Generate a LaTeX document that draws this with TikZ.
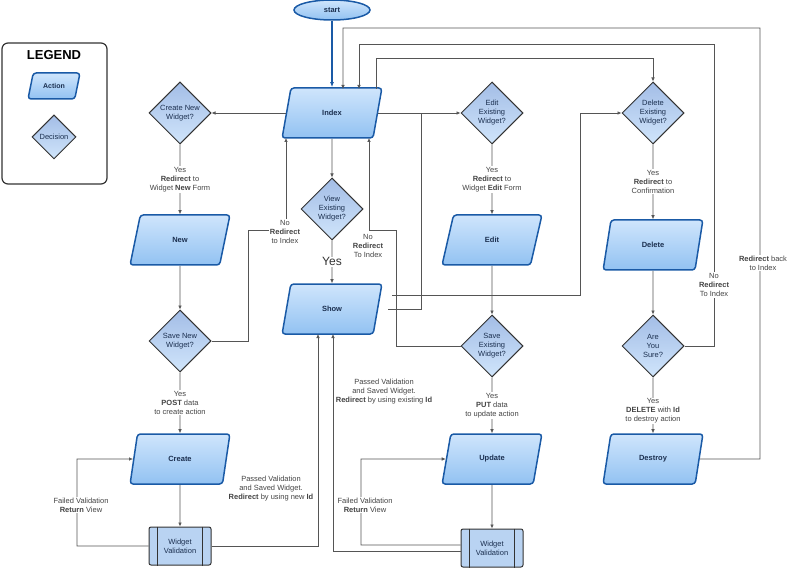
\documentclass[tikz,border=0pt]{standalone}
\usepackage{fontspec}
\setmainfont{Liberation Sans}
\usetikzlibrary{shapes.geometric,arrows.meta,calc}
\definecolor{bord}{HTML}{1A5AA6}
\definecolor{txt}{HTML}{1B2F4F}
\definecolor{lbl}{HTML}{444444}
\definecolor{ln}{HTML}{555555}
\definecolor{atop}{HTML}{CFE5FC}
\definecolor{abot}{HTML}{92C2F2}
\definecolor{dtop}{HTML}{A3BDE6}
\definecolor{dbot}{HTML}{D0E5FB}
\definecolor{wvf}{HTML}{B9D3F2}
\begin{document}
\begin{tikzpicture}[x=1pt,y=-1pt,
  act/.style={trapezium,trapezium left angle=69,trapezium right angle=111,trapezium stretches=true,
    minimum width=100,minimum height=50,rounded corners=3,draw=bord,line width=1.5pt,
    top color=atop,bottom color=abot,inner sep=0,
    font=\fontsize{7.5}{9}\selectfont\bfseries,text=txt},
  dec/.style={diamond,minimum width=62,minimum height=62,inner sep=0,draw=black!80,line width=1pt,
    top color=dtop,bottom color=dbot,align=center,
    font=\fontsize{7.5}{9}\selectfont,text=txt},
  wv/.style={rectangle,minimum width=62,minimum height=38,rounded corners=2,draw=black!80,line width=1pt,
    fill=wvf,align=center,font=\fontsize{7.5}{9}\selectfont,text=txt},
  lab/.style={align=center,font=\fontsize{7.5}{9}\selectfont,text=lbl,fill=white,inner sep=1pt},
  arr/.style={draw=ln,line width=0.6pt,-{Latex[length=4pt,width=3.5pt]}},
  con/.style={draw=ln,line width=0.6pt}]
\useasboundingbox (0,0) rectangle (790,572);
% legend
\node[draw=black!80,line width=1.2pt,rounded corners=6,minimum width=105,minimum height=141] (leg) at (54.5,113.5) {};
\node[font=\fontsize{13}{15}\selectfont\bfseries] (legt) at (54,55) {LEGEND};
\node[act,minimum width=52,minimum height=26,trapezium left angle=62,trapezium right angle=118,font=\fontsize{7}{8}\selectfont\bfseries] (lact) at (54,86) {Action};
\node[dec,minimum width=44,minimum height=44] (ldec) at (54,137) {Decision};
% nodes
\node[ellipse,minimum width=76,minimum height=20,draw=bord,line width=1.5pt,top color=atop,bottom color=abot,font=\fontsize{7.5}{9}\selectfont\bfseries,text=txt,inner sep=0] (start) at (332,10) {start};
\node[act] (idx) at (332,113) {Index};
\node[dec] (cnw) at (180,113) {Create New\\Widget?};
\node[act] (new) at (180,240) {New};
\node[dec] (snw) at (180,341) {Save New\\Widget?};
\node[act] (create) at (180,459) {Create};
\node[wv] (wv1) at (180,546) {Widget\\Validation};
\node[dec] (vew) at (332,209) {View\\Existing\\Widget?};
\node[act] (show) at (332,309) {Show};
\node[dec] (eew) at (492,113) {Edit\\Existing\\Widget?};
\node[act] (edit) at (492,240) {Edit};
\node[dec] (sew) at (492,346) {Save\\Existing\\Widget?};
\node[act] (update) at (492,459) {Update};
\node[wv] (wv2) at (492,548) {Widget\\Validation};
\node[dec] (dew) at (653,113) {Delete\\Existing\\Widget?};
\node[act] (delete) at (653,245) {Delete};
\node[dec] (ays) at (653,346) {Are\\You\\Sure?};
\node[act] (destroy) at (653,459) {Destroy};
\foreach \w in {wv1,wv2}{
  \draw[black!80,line width=1pt] ($(\w.north west)+(9,0)$) -- ($(\w.south west)+(9,0)$);
  \draw[black!80,line width=1pt] ($(\w.north east)+(-9,0)$) -- ($(\w.south east)+(-9,0)$);}
% connectors
\draw[draw=bord,line width=1.5pt,-{Latex[length=5pt]}] (start) -- (idx);
\draw[arr] (idx.west) -- (cnw.east);
\draw[arr] (cnw.south) -- node[lab]{Yes\\\textbf{Redirect} to\\Widget \textbf{New} Form} (new.north);
\draw[arr] (new.south) -- (snw.north);
\draw[arr] (snw.east) -- (248,341) -- (248,230) -- (286,230) -- (286,138);
\node[lab] (l1) at (285,232) {No\\\textbf{Redirect}\\to Index};
\draw[arr] (snw.south) -- node[lab]{Yes\\\textbf{POST} data\\to create action} (create.north);
\draw[arr] (create.south) -- (wv1.north);
\draw[arr] (wv1.west) -- (77,546) -- (77,459) -- (create.west);
\node[lab] (l2) at (81,505) {Failed Validation\\\textbf{Return} View};
\draw[arr] (wv1.east) -- (318,546) -- (318,334);
\node[lab] (l3) at (271,489) {Passed Validation\\and Saved Widget.\\\textbf{Redirect} by using new \textbf{Id}};
\draw[arr] (idx.south) -- (vew.north);
\draw[arr] (vew.south) -- node[fill=white,inner sep=1pt,font=\fontsize{12}{14}\selectfont,text=black!80]{Yes} (show.north);
\draw[arr] (idx.east) -- (eew.west);
\draw[con] (388,309) -- (421,309) -- (421,113);
\draw[arr] (392,295) -- (580,295) -- (580,113) -- (dew.west);
\draw[arr] (destroy.east) -- (760,459) -- (760,28) -- (343,28) -- (343,89);
\node[lab] (l4) at (763,263) {\textbf{Redirect} back\\to Index};
\draw[arr] (ays.east) -- (714,346) -- (714,44) -- (359,44) -- (359,89);
\node[lab] (l5) at (714,285) {No\\\textbf{Redirect}\\To Index};
\draw[arr] (376,89) -- (376,58) -- (653,58) -- (dew.north);
\draw[arr] (sew.west) -- (396,346) -- (396,230) -- (369,230) -- (369,138);
\node[lab] (l6) at (368,246) {No\\\textbf{Redirect}\\To Index};
\draw[arr] (eew.south) -- node[lab]{Yes\\\textbf{Redirect} to\\Widget \textbf{Edit} Form} (edit.north);
\draw[arr] (edit.south) -- (sew.north);
\draw[arr] (sew.south) -- node[lab]{Yes\\\textbf{PUT} data\\to update action} (update.north);
\draw[arr] (update.south) -- (wv2.north);
\draw[arr] ($(wv2.west)+(0,-3)$) -- (361,545) -- (361,459) -- (update.west);
\node[lab] (l7) at (365,505) {Failed Validation\\\textbf{Return} View};
\draw[arr] ($(wv2.west)+(0,3)$) -- (333,551) -- (333,334);
\node[lab] (l8) at (384,392) {Passed Validation\\and Saved Widget.\\\textbf{Redirect} by using existing \textbf{Id}};
\draw[arr] (dew.south) -- node[lab]{Yes\\\textbf{Redirect} to\\Confirmation} (delete.north);
\draw[arr] (delete.south) -- (ays.north);
\draw[arr] (ays.south) -- node[lab,pos=0.6]{Yes\\\textbf{DELETE} with \textbf{Id}\\to destroy action} (destroy.north);
\end{tikzpicture}
\end{document}
